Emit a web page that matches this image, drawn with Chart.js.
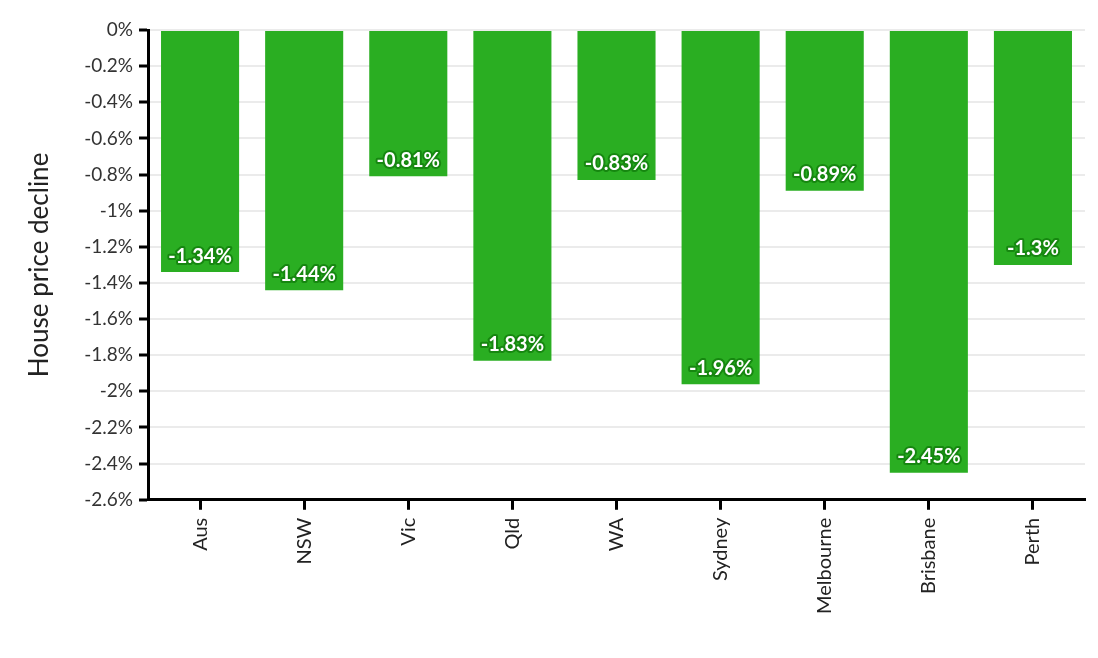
<!DOCTYPE html>
<html>
<head>
<meta charset="utf-8">
<script src="https://cdn.jsdelivr.net/npm/chart.js@4/dist/chart.umd.min.js"></script>
<style>
  html, body { margin: 0; padding: 0; background: #fff; }
  #wrap { width: 1098px; height: 658px; }
</style>
</head>
<body>
<div id="wrap"><canvas id="chart" width="1098" height="658"></canvas></div>
<script>
// datos
const regions = ['Aus', 'NSW', 'Vic', 'Qld', 'WA', 'Sydney', 'Melbourne', 'Brisbane', 'Perth'];
const declines = [-1.34, -1.44, -0.81, -1.83, -0.83, -1.96, -0.89, -2.45, -1.3];
const yTitle = 'House price decline';

const FONT = 'Lato, "Open Sans", sans-serif';
const barGreen = 'rgb(42, 174, 34)';

// etiquetas blancas al final de cada barra
const barLabels = {
  id: 'barLabels',
  afterDatasetsDraw(chart) {
    const ctx = chart.ctx;
    const meta = chart.getDatasetMeta(0);
    ctx.save();
    ctx.font = 'bold 20px ' + FONT;
    ctx.textAlign = 'center';
    ctx.textBaseline = 'middle';
    ctx.lineJoin = 'round';
    meta.data.forEach((bar, i) => {
      const txt = declines[i] + '%';
      const y = bar.y - 16;
      ctx.lineWidth = 4;
      ctx.strokeStyle = 'rgb(22, 135, 16)';
      ctx.strokeText(txt, bar.x, y);
      ctx.fillStyle = '#fff';
      ctx.fillText(txt, bar.x, y);
    });
    ctx.restore();
  }
};

new Chart(document.getElementById('chart'), {
  type: 'bar',
  data: {
    labels: regions,
    datasets: [{
      data: declines,
      backgroundColor: barGreen,
      borderWidth: 0,
      barPercentage: 0.75,
      categoryPercentage: 1
    }]
  },
  options: {
    responsive: false,
    animation: false,
    layout: { padding: { top: 30, right: 13, left: 20, bottom: 36 } },
    plugins: { legend: { display: false }, tooltip: { enabled: false } },
    scales: {
      x: {
        grid: { offset: false, drawOnChartArea: false, drawTicks: true, tickColor: '#000', tickLength: 10, tickWidth: 3 },
        border: { display: true, color: '#000', width: 3 },
        ticks: {
          color: '#222',
          font: { family: FONT, size: 20 },
          minRotation: 90,
          maxRotation: 90,
          padding: 8
        }
      },
      y: {
        min: -2.6,
        max: 0,
        grid: { color: '#ebebeb', lineWidth: 2, drawTicks: true, tickColor: '#000', tickLength: 9, tickWidth: 3 },
        border: { display: true, color: '#000', width: 3 },
        ticks: {
          stepSize: 0.2,
          color: '#333',
          font: { family: FONT, size: 19 },
          padding: 6,
          callback: v => parseFloat(v.toFixed(1)) + '%'
        },
        title: {
          display: true,
          text: yTitle,
          color: '#222',
          font: { family: FONT, size: 26 },
          padding: { top: 4, bottom: 23 }
        }
      }
    }
  },
  plugins: [barLabels]
});
</script>
</body>
</html>
